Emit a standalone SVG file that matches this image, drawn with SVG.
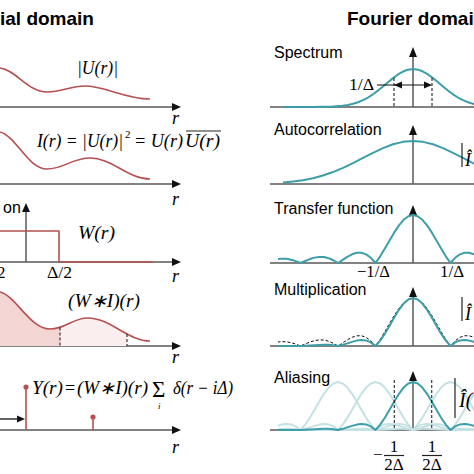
<svg xmlns="http://www.w3.org/2000/svg" xmlns:xlink="http://www.w3.org/1999/xlink" width="474" height="474" viewBox="0 0 474 474">
<style>
.title{font-family:"Liberation Sans",Arial,sans-serif;font-weight:bold;font-size:19px;fill:#000}
.lab{font-family:"Liberation Sans",Arial,sans-serif;font-size:16px;fill:#000}
.m{font-family:"Liberation Serif","Times New Roman",serif;font-style:italic;font-size:18px;fill:#000}
.mu{font-family:"Liberation Serif","Times New Roman",serif;font-size:17px;fill:#000}
.axis{stroke:#5a5a5a;stroke-width:1.5;fill:none}
.head{fill:#111}
.red{stroke:#b5504f;stroke-width:1.6;fill:none;stroke-linejoin:round}
.teal{stroke:#3d9ea8;stroke-width:2;fill:none;stroke-linejoin:round}
.lteal{stroke:#c4e1e4;stroke-width:2;fill:none;stroke-linejoin:round}
.dash{stroke:#111;stroke-width:1;stroke-dasharray:3,2;fill:none}
.bar{stroke:#222;stroke-width:1.2}
</style>
<defs>
<path id="P" d="M-225,0 L-112.5,0 L-107.81,-0.2 L-103.13,-0.47 L-98.44,-0.77 L-93.75,-1.05 L-89.06,-1.22 L-84.38,-1.16 L-79.69,-0.77 L-75,0 L-70.31,-1.16 L-65.63,-2.62 L-60.94,-4.13 L-56.25,-5.4 L-51.56,-6.03 L-46.88,-5.57 L-42.19,-3.63 L-37.5,0 L-32.81,-5.38 L-28.13,-12.29 L-23.44,-20.23 L-18.75,-28.5 L-14.06,-36.17 L-9.38,-42.45 L-4.69,-46.55 L0,-48 L4.69,-46.55 L9.38,-42.45 L14.06,-36.17 L18.75,-28.5 L23.44,-20.23 L28.13,-12.29 L32.81,-5.38 L37.5,0 L42.19,-3.63 L46.88,-5.57 L51.56,-6.03 L56.25,-5.4 L60.94,-4.13 L65.63,-2.62 L70.31,-1.16 L75,0 L79.69,-0.77 L84.38,-1.16 L89.06,-1.22 L93.75,-1.05 L98.44,-0.77 L103.13,-0.47 L107.81,-0.2 L112.5,0 L225,0"/>
<path id="S" d="M-150,0 L-145.31,-1.49 L-140.63,-2.88 L-135.94,-3.89 L-131.25,-4.37 L-126.56,-4.18 L-121.88,-3.31 L-117.19,-1.87 L-112.5,0 L-107.81,-2.02 L-103.13,-3.94 L-98.44,-5.38 L-93.75,-6.1 L-89.06,-5.95 L-84.38,-4.8 L-79.69,-2.74 L-75,0 L-70.31,-3.12 L-65.63,-6.19 L-60.94,-8.69 L-56.25,-10.18 L-51.56,-10.27 L-46.88,-8.64 L-42.19,-5.18 L-37.5,0 L-32.81,-6.67 L-28.13,-14.4 L-23.44,-22.58 L-18.75,-30.58 L-14.06,-37.63 L-9.38,-43.2 L-4.69,-46.75 L0,-48 L4.69,-46.75 L9.38,-43.2 L14.06,-37.63 L18.75,-30.58 L23.44,-22.58 L28.13,-14.4 L32.81,-6.67 L37.5,0 L42.19,-5.18 L46.88,-8.64 L51.56,-10.27 L56.25,-10.18 L60.94,-8.69 L65.63,-6.19 L70.31,-3.12 L75,0 L79.69,-2.74 L84.38,-4.8 L89.06,-5.95 L93.75,-6.1 L98.44,-5.38 L103.13,-3.94 L107.81,-2.02 L112.5,0 L117.19,-1.87 L121.88,-3.31 L126.56,-4.18 L131.25,-4.37 L135.94,-3.89 L140.63,-2.88 L145.31,-1.49 L150,0"/>
<clipPath id="cR"><rect x="278" y="0" width="200" height="474"/></clipPath>
<clipPath id="cA"><rect x="-5" y="280" width="65" height="70"/></clipPath>
<clipPath id="cB"><rect x="60" y="280" width="67" height="70"/></clipPath>
<path id="WI" d="M0,292 C16,296 30,329 50,329 C66,329 72,318 88,318 C110,318 128,341 150,341"/>
</defs>

<g id="titles">
<text class="title" x="0" y="25">ial domain</text>
<text class="title" x="347" y="25">Fourier domai</text>
</g>

<g id="axes">
<path class="axis" d="M0,107 H174 M0,184 H174 M0,262 H174 M0,346 H174 M0,430 H174"/>
<path class="head" d="M172,103 L181,107 L172,111 Z M172,180 L181,184 L172,188 Z M172,258 L181,262 L172,266 Z M172,342 L181,346 L172,350 Z M172,426 L181,430 L172,434 Z"/>
<path class="axis" d="M26,262 V211"/>
<path class="head" d="M22,212 L26,203 L30,212 Z"/>
<path class="axis" d="M270,107 H474 M270,184 H474 M270,263 H474 M270,346 H474 M270,430 H474"/>
<path class="axis" d="M413,107 V55 M413,184 V133 M413,263 V213 M413,346 V295 M413,430 V379"/>
<path class="head" d="M409,57 L413,47 L417,57 Z M409,135 L413,125 L417,135 Z M409,215 L413,205 L417,215 Z M409,297 L413,287 L417,297 Z M409,381 L413,371 L417,381 Z"/>
</g>

<g id="spatial-U">
<path class="red" d="M0,68 C16,70 28,92 47,92 C62,92 70,86 85,86 C105,86 125,99 150,99"/>
<text class="m" x="77" y="74" textLength="41" lengthAdjust="spacingAndGlyphs">|U(r)|</text>
<text class="m" x="172" y="124">r</text>
</g>

<g id="spatial-I">
<path class="red" d="M0,132 C16,136 28,169 47,169 C64,169 72,158 90,158 C112,158 128,179 150,179"/>
<text class="m" x="37" y="147" textLength="86" lengthAdjust="spacingAndGlyphs">I(r) = |U(r)|</text>
<text class="m" x="125" y="138" style="font-size:11px;font-style:normal">2</text>
<text class="m" x="134" y="147" textLength="49" lengthAdjust="spacingAndGlyphs">= U(r)</text>
<text class="m" x="185" y="147" textLength="35" lengthAdjust="spacingAndGlyphs">U(r)</text>
<line class="bar" x1="186" y1="131" x2="221" y2="131"/>
<text class="m" x="172" y="205">r</text>
</g>

<g id="spatial-W">
<text class="lab" x="3" y="213">on</text>
<path class="red" d="M-1,231 L59,231 L59,262 L153,262"/>
<text class="m" x="78" y="239" textLength="37" lengthAdjust="spacingAndGlyphs">W(r)</text>
<text class="mu" x="-3" y="278">2</text>
<text class="mu" x="47" y="278" textLength="25" lengthAdjust="spacingAndGlyphs">Δ/2</text>
<text class="m" x="172" y="282">r</text>
</g>

<g id="spatial-WI">
<path d="M0,292 C16,296 30,329 50,329 C66,329 72,318 88,318 C110,318 128,341 150,341 L150,346 L0,346 Z" fill="#f3d5d4" clip-path="url(#cA)"/>
<path d="M0,292 C16,296 30,329 50,329 C66,329 72,318 88,318 C110,318 128,341 150,341 L150,346 L0,346 Z" fill="#fbeeee" clip-path="url(#cB)"/>
<use xlink:href="#WI" class="red"/>
<line class="dash" x1="60" y1="327.5" x2="60" y2="346"/>
<line class="dash" x1="127" y1="334" x2="127" y2="346"/>
<text class="m" x="68" y="307" textLength="72" lengthAdjust="spacingAndGlyphs">(W∗I)(r)</text>
<text class="m" x="172" y="363">r</text>
</g>

<g id="spatial-Y">
<line class="red" x1="26" y1="387" x2="26" y2="430"/>
<circle cx="26" cy="387" r="2.6" fill="#b5504f"/>
<line class="red" x1="93" y1="417" x2="93" y2="430"/>
<circle cx="93" cy="417" r="2.6" fill="#b5504f"/>
<line x1="0" y1="419" x2="18" y2="419" stroke="#111" stroke-width="1.3"/>
<path class="head" d="M17,415.5 L25,419 L17,422.5 Z"/>
<text class="m" x="32" y="394" textLength="31" lengthAdjust="spacingAndGlyphs">Y(r)</text>
<text class="m" x="65" y="394" style="font-style:normal">=</text>
<text class="m" x="77" y="394" textLength="71" lengthAdjust="spacingAndGlyphs">(W∗I)(r)</text>
<text class="m" x="152" y="397" style="font-style:normal;font-size:23px">Σ<tspan x="158" y="409" style="font-style:italic;font-size:9px">i</tspan></text>
<text class="m" x="173" y="394" textLength="60" lengthAdjust="spacingAndGlyphs">δ(r − iΔ)</text>
<text class="m" x="172" y="453">r</text>
</g>

<g id="fourier-spectrum">
<text class="lab" x="274" y="58">Spectrum</text>
<path class="teal" d="M284,107 L313,107 L323,106.86 L333,106.53 L343,105.68 L348,104.91 L353,103.78 L358,102.23 L363,100.16 L368,97.52 L373,94.32 L378,90.6 L383,86.5 L388,82.25 L393,78.11 L398,74.44 L403,71.52 L408,69.65 L413,69 L418,69.65 L423,71.52 L428,74.44 L433,78.11 L438,82.25 L443,86.5 L448,90.6 L453,94.32 L458,97.52 L463,100.16 L468,102.23 L473,103.78 L478,104.91"/>
<line class="dash" x1="394" y1="78" x2="394" y2="107"/>
<line class="dash" x1="432" y1="78" x2="432" y2="107"/>
<line x1="377" y1="85" x2="430" y2="85" stroke="#111" stroke-width="1.2"/>
<path class="head" d="M394,85 L402,81.5 L402,88.5 Z M432,85 L424,81.5 L424,88.5 Z"/>
<text class="mu" x="349" y="90" textLength="25" lengthAdjust="spacingAndGlyphs">1/Δ</text>
</g>

<g id="fourier-autocorrelation">
<text class="lab" x="274" y="135">Autocorrelation</text>
<path class="teal" d="M283,182.54 L293,181.6 L303,180.17 L313,178.2 L323,175.5 L333,172.05 L343,167.9 L353,163.1 L363,157.9 L373,152.8 L383,148.1 L393,144.31 L403,141.86 L413,141 L423,141.86 L433,144.31 L443,148.1 L453,152.8 L463,157.9 L473,163.1 L483,167.9"/>
<line class="bar" x1="462" y1="143" x2="462" y2="167"/>
<text class="m" x="465" y="166">Î</text>
</g>

<g id="fourier-transfer">
<text class="lab" x="274" y="214">Transfer function</text>
<g clip-path="url(#cR)"><use xlink:href="#S" x="413" y="263" class="teal"/></g>
<text class="mu" x="357" y="277" textLength="33" lengthAdjust="spacingAndGlyphs">−1/Δ</text>
<text class="mu" x="440" y="277" textLength="24" lengthAdjust="spacingAndGlyphs">1/Δ</text>
</g>

<g id="fourier-multiplication">
<text class="lab" x="274" y="295">Multiplication</text>
<g clip-path="url(#cR)">
<use xlink:href="#S" x="413" y="346" class="dash"/>
<use xlink:href="#P" x="413" y="346" class="teal"/>
</g>
<line class="bar" x1="462" y1="297" x2="462" y2="321"/>
<text class="m" x="465" y="320">Î</text>
</g>

<g id="fourier-aliasing">
<text class="lab" x="274" y="383">Aliasing</text>
<g clip-path="url(#cR)">
<use xlink:href="#P" x="338" y="430" class="lteal"/>
<use xlink:href="#P" x="375.5" y="430" class="lteal"/>
<use xlink:href="#P" x="450.5" y="430" class="lteal"/>
<use xlink:href="#P" x="488" y="430" class="lteal"/>
<use xlink:href="#P" x="413" y="430" class="teal"/>
</g>
<line class="dash" x1="394.25" y1="380" x2="394.25" y2="430"/>
<line class="dash" x1="431.75" y1="380" x2="431.75" y2="430"/>
<line class="bar" x1="455" y1="378" x2="455" y2="418"/>
<text class="m" x="459" y="407" style="font-size:20px">Î(</text>
<text class="mu" x="373" y="460">−</text>
<text class="mu" x="394" y="452" text-anchor="middle">1</text>
<line class="bar" x1="384" y1="455.5" x2="404" y2="455.5"/>
<text class="mu" x="394" y="470" text-anchor="middle">2Δ</text>
<text class="mu" x="432" y="452" text-anchor="middle">1</text>
<line class="bar" x1="422" y1="455.5" x2="442" y2="455.5"/>
<text class="mu" x="432" y="470" text-anchor="middle">2Δ</text>
</g>
</svg>
